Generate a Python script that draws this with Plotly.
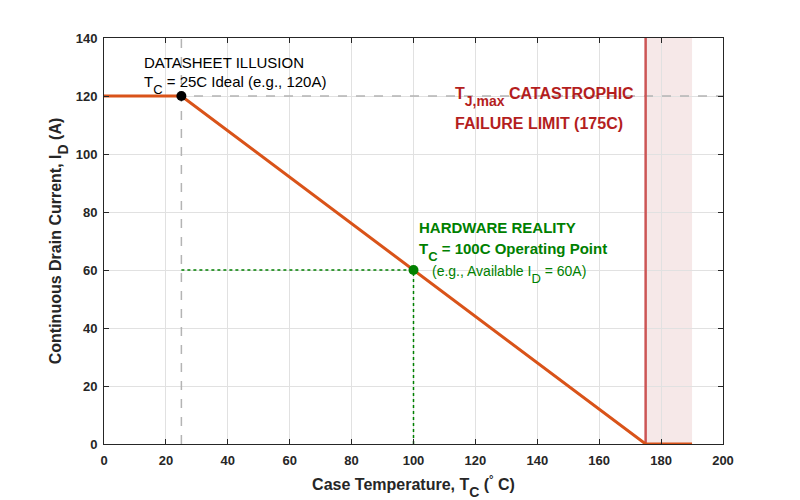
import plotly.graph_objects as go

# Data
curve_x = [0, 25, 175, 190]
curve_y = [120, 120, 0, 0]
ideal_pt = (25, 120)
real_pt = (100, 60)
tj_max = 175
shade_end = 190
x_ticks = [0, 20, 40, 60, 80, 100, 120, 140, 160, 180, 200]
y_ticks = [0, 20, 40, 60, 80, 100, 120, 140]

FONT = "Liberation Sans, Arial, sans-serif"
fig = go.Figure()

# shaded failure region
fig.add_shape(type="rect", x0=tj_max, x1=shade_end, y0=0, y1=140, xref="x", yref="y",
              fillcolor="rgba(200,120,120,0.17)", line_width=0, layer="below")

# reference dashed lines
fig.add_trace(go.Scatter(x=[0, 200], y=[ideal_pt[1], ideal_pt[1]], mode="lines",
                         line=dict(color="rgb(180,180,180)", width=1.5, dash="dash"), hoverinfo="skip"))
fig.add_trace(go.Scatter(x=[ideal_pt[0], ideal_pt[0]], y=[0, 140], mode="lines",
                         line=dict(color="rgb(180,180,180)", width=1.5, dash="dash"), hoverinfo="skip"))
# green dotted
fig.add_trace(go.Scatter(x=[ideal_pt[0], real_pt[0]], y=[real_pt[1], real_pt[1]], mode="lines",
                         line=dict(color="rgb(0,128,0)", width=1.5, dash="dot")))
fig.add_trace(go.Scatter(x=[real_pt[0], real_pt[0]], y=[0, real_pt[1]], mode="lines",
                         line=dict(color="rgb(0,128,0)", width=1.5, dash="dot")))
# Tj max line
fig.add_trace(go.Scatter(x=[tj_max, tj_max], y=[0, 140], mode="lines",
                         line=dict(color="rgb(204,85,85)", width=2.5)))
# derating curve
fig.add_trace(go.Scatter(x=curve_x, y=curve_y, mode="lines",
                         line=dict(color="rgb(217,83,25)", width=3)))
# points
fig.add_trace(go.Scatter(x=[ideal_pt[0]], y=[ideal_pt[1]], mode="markers",
                         marker=dict(color="black", size=10)))
fig.add_trace(go.Scatter(x=[real_pt[0]], y=[real_pt[1]], mode="markers",
                         marker=dict(color="rgb(0,128,0)", size=10)))


def label(x, y, text, size, color):
    fig.add_annotation(x=x, y=y, xref="x", yref="y", xanchor="left", yanchor="middle",
                       showarrow=False, align="left", text=text,
                       font=dict(family=FONT, size=size, color=color))


def sub(t, size):
    return f"<sub><span style='font-size:{size}px;baseline-shift:-4px'>{t}</span></sub>"


RED = "rgb(180,30,30)"
GREEN = "rgb(0,128,0)"
label(12.3, 131.5, "DATASHEET ILLUSION", 15, "black")
label(12.3, 123.9, "T" + sub("C", 13) + " = 25C Ideal (e.g., 120A)", 15, "black")
label(112.6, 119.7, "<b>T" + sub("J,max", 14) + " CATASTROPHIC</b>", 16, RED)
label(112.6, 110.6, "<b>FAILURE LIMIT (175C)</b>", 16, RED)
label(101.0, 74.6, "<b>HARDWARE REALITY</b>", 15, GREEN)
label(101.0, 66.3, "<b>T" + sub("C", 13) + " = 100C Operating Point</b>", 15, GREEN)
label(105.2, 58.5, "(e.g., Available I" + sub("D", 13) + " = 60A)", 14, GREEN)

axis_common = dict(showline=True, linecolor="rgb(38,38,38)", linewidth=1, mirror="ticks",
                   ticks="inside", ticklen=5, tickcolor="rgb(38,38,38)",
                   showgrid=True, gridcolor="rgb(225,225,225)", gridwidth=1, zeroline=False,
                   automargin=False,
                   tickfont=dict(family=FONT, size=13, color="rgb(38,38,38)"))
fig.update_xaxes(range=[0, 200], tickvals=x_ticks, ticktext=[f"<b>{v}</b>" for v in x_ticks],
                 ticklabelstandoff=4,
                 title=dict(text="<b>Case Temperature, T" + sub("C", 14) + " (<sup>°</sup> C)</b>",
                            font=dict(family=FONT, size=16, color="rgb(38,38,38)"), standoff=12),
                 **axis_common)
fig.update_yaxes(range=[0, 140], tickvals=y_ticks, ticktext=[f"<b>{v}</b>" for v in y_ticks],
                 ticklabelstandoff=3,
                 title=dict(text="<b>Continuous Drain Current, I" + sub("D", 14) + " (A)</b>",
                            font=dict(family=FONT, size=16, color="rgb(38,38,38)"), standoff=10),
                 **axis_common)
fig.update_layout(width=800, height=500, margin=dict(l=104, r=77, t=38, b=56),
                  plot_bgcolor="white", paper_bgcolor="white", showlegend=False)
fig.write_html("out.html")
